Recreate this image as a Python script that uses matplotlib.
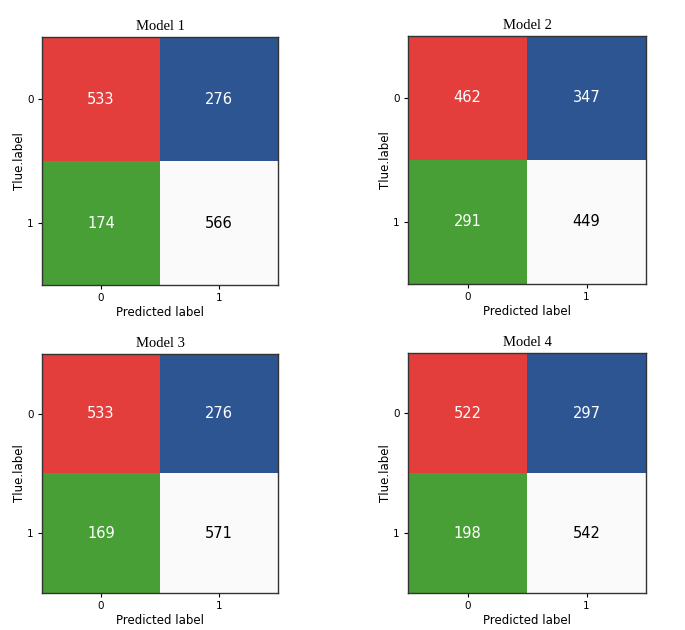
import matplotlib
matplotlib.use("Agg")
import matplotlib.pyplot as plt
import numpy as np
from matplotlib.colors import to_rgb

titles = ["Model 1", "Model 2", "Model 3", "Model 4"]
class_labels = ["0", "1"]
model1 = [[533, 276], [174, 566]]
model2 = [[462, 347], [291, 449]]
model3 = [[533, 276], [169, 571]]
model4 = [[522, 297], [198, 542]]
matrices = [model1, model2, model3, model4]

cell_colors = [["#e33d3c", "#2d5592"], ["#489f35", "#fafafa"]]
text_colors = [["white", "white"], ["white", "black"]]

W, H = 685, 630
fig = plt.figure(figsize=(W / 100, H / 100), dpi=100)

# axes boxes in pixels: left, top, right, bottom
boxes = [(42, 37, 278, 285), (408, 36, 646, 284),
         (42, 354, 278, 593), (408, 353, 646, 593)]

rgb = np.array([[to_rgb(c) for c in row] for row in cell_colors])

for title, mat, (l, t, r, b) in zip(titles, matrices, boxes):
    ax = fig.add_axes([l / W, 1 - b / H, (r - l) / W, (b - t) / H])
    ax.imshow(rgb, aspect="auto", interpolation="nearest")
    for i in range(2):
        for j in range(2):
            ax.text(j, i, str(mat[i][j]), ha="center", va="center",
                    color=text_colors[i][j], fontsize=10.5,
                    family="DejaVu Sans")
    ax.set_xticks([0, 1])
    ax.set_yticks([0, 1])
    ax.set_xticklabels(class_labels, fontsize=7.5)
    ax.set_yticklabels(class_labels, fontsize=7.5)
    ax.tick_params(length=3, width=0.8, pad=3)
    ax.set_xlabel("Predicted label", fontsize=8.5, labelpad=2)
    ax.set_ylabel("Tlue.label", fontsize=8.5, labelpad=1)
    ax.set_title(title, fontsize=10.5, family="Liberation Serif", pad=5)
    for s in ax.spines.values():
        s.set_color("#333333")
        s.set_linewidth(1.0)

fig.savefig("out.png", dpi=100, facecolor="white")
